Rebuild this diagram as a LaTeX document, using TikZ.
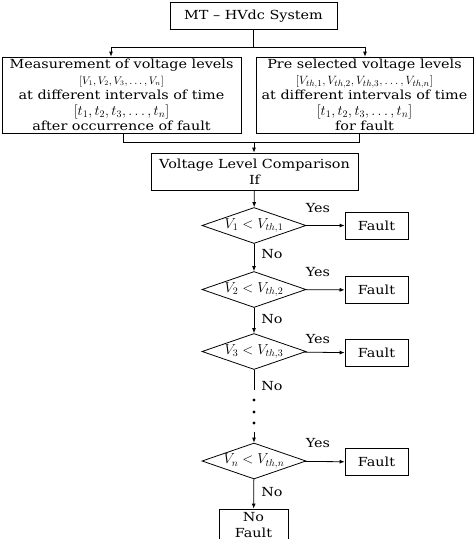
\documentclass[tikz,border=0pt]{standalone}
\usepackage{fontspec}
\setmainfont{DejaVu Serif}[FakeStretch=1.15]
\usetikzlibrary{shapes.geometric,arrows.meta}

\newcommand{\timeseq}[1]{{\fontsize{14}{15.5}\selectfont$#1$}}
\tikzset{
  box/.style={draw, rectangle, align=center, inner sep=1pt, font=\fontsize{12.5}{15.5}\selectfont},
  test/.style={draw, diamond, aspect=3, minimum width=104, minimum height=36, inner sep=0pt, font=\fontsize{14}{15}\selectfont},
  lbl/.style={inner sep=1pt, font=\fontsize{12.5}{14}\selectfont},
  dot/.style={circle, fill, inner sep=0pt, minimum size=3.2pt},
  flow/.style={-{Latex[length=5pt,width=4pt]}},
}

\begin{document}
\begin{tikzpicture}[x=1pt, y=-1pt, line width=0.8pt]
  \useasboundingbox (0,0) rectangle (474,539);
  \node[box, minimum width=167, minimum height=27] (sys) at (253.5,16) {MT -- HVdc System};
  \node[box, minimum width=239, minimum height=76] (meas) at (121.5,95)
    {Measurement of voltage levels\\ {\fontsize{10.5}{10}\selectfont $[V_1,V_2,V_3,\ldots,V_n]$}\\ at different intervals of time\\ \timeseq{[t_1,t_2,t_3,\ldots,t_n]}\\ after occurrence of fault};
  \node[box, minimum width=217, minimum height=76] (pre) at (364.5,95)
    {Pre selected voltage levels\\ {\fontsize{13}{14}\selectfont $[V_{th,1},V_{th,2},V_{th,3},\ldots,V_{th,n}]$}\\ at different intervals of time\\ \timeseq{[t_1,t_2,t_3,\ldots,t_n]}\\ for fault};
  \node[box, minimum width=207, minimum height=37] (cmp) at (254.5,171.5) {Voltage Level Comparison\\ If};
  % Decisions
  \node[test] (d1) at (254,225.5) {$V_1 < V_{th,1}$};
  \node[test] (d2) at (254,289.5) {$V_2 < V_{th,2}$};
  \node[test] (d3) at (254,351.5) {$V_3 < V_{th,3}$};
  \node[test] (dn) at (254,461) {$V_n < V_{th,n}$};
  \node[box, minimum width=63, minimum height=27] (f1) at (376.5,225.5) {Fault};
  \node[box, minimum width=63, minimum height=27] (f2) at (376.5,290) {Fault};
  \node[box, minimum width=63, minimum height=27] (f3) at (376.5,353) {Fault};
  \node[box, minimum width=63, minimum height=27] (fn) at (376.5,462) {Fault};
  \node[box, minimum width=69, minimum height=32] (nofault) at (253.5,525) {No\\ Fault};
  \node[lbl] (yes1) at (318,208) {Yes};
  \node[lbl] (yes2) at (318,272) {Yes};
  \node[lbl] (yes3) at (318,339) {Yes};
  \node[lbl] (yesn) at (318,443) {Yes};
  \node[lbl] (no1) at (272,254) {No};
  \node[lbl] (no2) at (272,319) {No};
  \node[lbl] (no3) at (272,386) {No};
  \node[lbl] (non) at (272,492) {No};
  \node[dot] (dot1) at (254,400) {};
  \node[dot] (dot2) at (254,412) {};
  \node[dot] (dot3) at (254,423) {};
  \coordinate (split) at (253.5,47);
  \coordinate (splitL) at (111,47);
  \coordinate (splitR) at (365,47);
  \coordinate (joinL) at (123,142);
  \coordinate (join) at (254,142);
  \coordinate (joinR) at (359,142);
  \coordinate (gap) at (254,390);
  \coordinate (resume) at (254,432);
  % Draw the connectors
  \draw (sys) -- (split);
  \draw (splitL) -- (splitR);
  \draw[flow] (splitL) -- (splitL |- meas.north);
  \draw[flow] (splitR) -- (splitR |- pre.north);
  \draw (joinL |- meas.south) -- (joinL) -- (joinR) -- (joinR |- pre.south);
  \draw[flow] (join) -- (join |- cmp.north);
  \draw[flow] (cmp) -- (d1);
  \draw[flow] (d1) -- (f1);
  \draw[flow] (d2) -- (f2);
  \draw[flow] (d3) -- (f3);
  \draw[flow] (dn) -- (fn);
  \draw[flow] (d1) -- (d2);
  \draw[flow] (d2) -- (d3);
  \draw (d3) -- (gap);
  \draw[flow] (resume) -- (dn);
  \draw[flow] (dn) -- (nofault);
\end{tikzpicture}
\end{document}
